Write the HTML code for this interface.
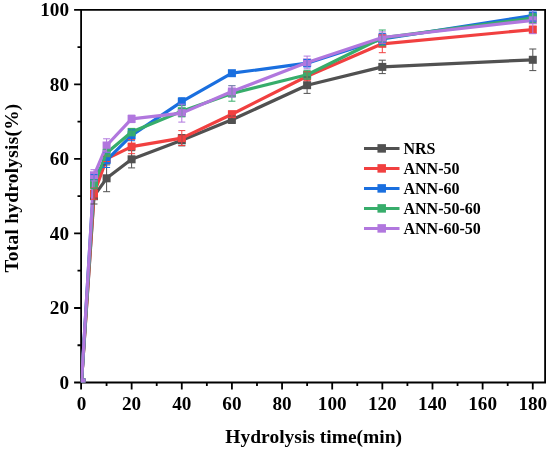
<!DOCTYPE html>
<html><head><meta charset="utf-8"><title>Total hydrolysis</title>
<style>html,body{margin:0;padding:0;background:#fff}svg{display:block}</style></head>
<body>
<svg width="550" height="450" viewBox="0 0 550 450">
<rect width="550" height="450" fill="#fff"/>
<defs><clipPath id="c"><rect x="80.89999999999999" y="9.9" width="464.2" height="372.6"/></clipPath></defs>
<path d="M74.1 9.9H545.1V382.5H74.1M81.1 9.15V389.5" fill="none" stroke="#000" stroke-width="1.8"/>
<path d="M77.5 345.24H81.1M74.1 307.98H81.1M77.5 270.72H81.1M74.1 233.46H81.1M77.5 196.20H81.1M74.1 158.94H81.1M77.5 121.68H81.1M74.1 84.42H81.1M77.5 47.16H81.1M106.57 382.5v3.6M131.64 382.5v7M156.71 382.5v3.6M181.78 382.5v7M206.85 382.5v3.6M231.92 382.5v7M256.99 382.5v3.6M282.06 382.5v7M307.13 382.5v3.6M332.20 382.5v7M357.27 382.5v3.6M382.34 382.5v7M407.41 382.5v3.6M432.48 382.5v7M457.55 382.5v3.6M482.62 382.5v7M507.69 382.5v3.6M532.76 382.5v7" fill="none" stroke="#000" stroke-width="1.8"/>
<g clip-path="url(#c)">
<polyline points="81.5,382.5 94.0,196.2 106.6,178.3 131.6,159.3 181.8,140.3 231.9,119.8 307.1,85.2 382.3,66.9 532.8,59.8" fill="none" stroke="#515151" stroke-width="3.2" stroke-linejoin="round"/>
<rect x="77.5" y="378.5" width="8" height="8" fill="#515151"/>
<rect x="90.0" y="192.2" width="8" height="8" fill="#515151"/>
<rect x="102.6" y="174.3" width="8" height="8" fill="#515151"/>
<rect x="127.6" y="155.3" width="8" height="8" fill="#515151"/>
<rect x="177.8" y="136.3" width="8" height="8" fill="#515151"/>
<rect x="227.9" y="115.8" width="8" height="8" fill="#515151"/>
<rect x="303.1" y="81.2" width="8" height="8" fill="#515151"/>
<rect x="378.3" y="62.9" width="8" height="8" fill="#515151"/>
<rect x="528.8" y="55.8" width="8" height="8" fill="#515151"/>
<polyline points="81.5,382.5 94.0,193.6 106.6,158.9 131.6,146.6 181.8,138.1 231.9,114.2 307.1,76.2 382.3,43.8 532.8,29.6" fill="none" stroke="#F14040" stroke-width="3.2" stroke-linejoin="round"/>
<rect x="77.5" y="378.5" width="8" height="8" fill="#F14040"/>
<rect x="90.0" y="189.6" width="8" height="8" fill="#F14040"/>
<rect x="102.6" y="154.9" width="8" height="8" fill="#F14040"/>
<rect x="127.6" y="142.6" width="8" height="8" fill="#F14040"/>
<rect x="177.8" y="134.1" width="8" height="8" fill="#F14040"/>
<rect x="227.9" y="110.2" width="8" height="8" fill="#F14040"/>
<rect x="303.1" y="72.2" width="8" height="8" fill="#F14040"/>
<rect x="378.3" y="39.8" width="8" height="8" fill="#F14040"/>
<rect x="528.8" y="25.6" width="8" height="8" fill="#F14040"/>
<polyline points="81.5,382.5 94.0,177.2 106.6,160.1 131.6,135.3 181.8,101.6 231.9,73.2 307.1,63.2 382.3,39.0 532.8,15.5" fill="none" stroke="#1A6FDF" stroke-width="3.2" stroke-linejoin="round"/>
<rect x="77.5" y="378.5" width="8" height="8" fill="#1A6FDF"/>
<rect x="90.0" y="173.2" width="8" height="8" fill="#1A6FDF"/>
<rect x="102.6" y="156.1" width="8" height="8" fill="#1A6FDF"/>
<rect x="127.6" y="131.3" width="8" height="8" fill="#1A6FDF"/>
<rect x="177.8" y="97.6" width="8" height="8" fill="#1A6FDF"/>
<rect x="227.9" y="69.2" width="8" height="8" fill="#1A6FDF"/>
<rect x="303.1" y="59.2" width="8" height="8" fill="#1A6FDF"/>
<rect x="378.3" y="35.0" width="8" height="8" fill="#1A6FDF"/>
<rect x="528.8" y="11.5" width="8" height="8" fill="#1A6FDF"/>
<polyline points="81.5,382.5 94.0,184.3 106.6,153.0 131.6,132.1 181.8,111.2 231.9,93.4 307.1,74.7 382.3,37.8 532.8,18.1" fill="none" stroke="#37AD6B" stroke-width="3.2" stroke-linejoin="round"/>
<rect x="77.5" y="378.5" width="8" height="8" fill="#37AD6B"/>
<rect x="90.0" y="180.3" width="8" height="8" fill="#37AD6B"/>
<rect x="102.6" y="149.0" width="8" height="8" fill="#37AD6B"/>
<rect x="127.6" y="128.1" width="8" height="8" fill="#37AD6B"/>
<rect x="177.8" y="107.2" width="8" height="8" fill="#37AD6B"/>
<rect x="227.9" y="89.4" width="8" height="8" fill="#37AD6B"/>
<rect x="303.1" y="70.7" width="8" height="8" fill="#37AD6B"/>
<rect x="378.3" y="33.8" width="8" height="8" fill="#37AD6B"/>
<rect x="528.8" y="14.1" width="8" height="8" fill="#37AD6B"/>
<polyline points="81.5,382.5 94.0,175.3 106.6,145.5 131.6,118.9 181.8,113.1 231.9,91.5 307.1,62.4 382.3,37.5 532.8,20.3" fill="none" stroke="#B177DE" stroke-width="3.2" stroke-linejoin="round"/>
<rect x="77.5" y="378.5" width="8" height="8" fill="#B177DE"/>
<rect x="90.0" y="171.3" width="8" height="8" fill="#B177DE"/>
<rect x="102.6" y="141.5" width="8" height="8" fill="#B177DE"/>
<rect x="127.6" y="114.9" width="8" height="8" fill="#B177DE"/>
<rect x="177.8" y="109.1" width="8" height="8" fill="#B177DE"/>
<rect x="227.9" y="87.5" width="8" height="8" fill="#B177DE"/>
<rect x="303.1" y="58.4" width="8" height="8" fill="#B177DE"/>
<rect x="378.3" y="33.5" width="8" height="8" fill="#B177DE"/>
<rect x="528.8" y="16.3" width="8" height="8" fill="#B177DE"/>
<path d="M94.0 188.4V204.0M90.5 188.4h7M90.5 204.0h7M106.6 164.9V191.7M103.1 164.9h7M103.1 191.7h7M131.6 150.7V167.9M128.1 150.7h7M128.1 167.9h7M181.8 134.7V145.9M178.3 134.7h7M178.3 145.9h7M231.9 116.1V123.5M228.4 116.1h7M228.4 123.5h7M307.1 77.0V93.4M303.6 77.0h7M303.6 93.4h7M382.3 60.2V73.6M378.8 60.2h7M378.8 73.6h7M532.8 49.0V70.6M529.3 49.0h7M529.3 70.6h7" stroke="#515151" stroke-width="1" fill="none"/>
<path d="M94.0 188.0V199.2M90.5 188.0h7M90.5 199.2h7M106.6 156.3V161.5M103.1 156.3h7M103.1 161.5h7M131.6 139.6V153.7M128.1 139.6h7M128.1 153.7h7M181.8 130.6V145.5M178.3 130.6h7M178.3 145.5h7M231.9 111.2V117.2M228.4 111.2h7M228.4 117.2h7M307.1 71.8V80.7M303.6 71.8h7M303.6 80.7h7M382.3 34.9V52.7M378.8 34.9h7M378.8 52.7h7M532.8 26.3V33.0M529.3 26.3h7M529.3 33.0h7" stroke="#F14040" stroke-width="1" fill="none"/>
<path d="M94.0 174.6V179.8M90.5 174.6h7M90.5 179.8h7M106.6 152.6V167.5M103.1 152.6h7M103.1 167.5h7M131.6 129.9V140.7M128.1 129.9h7M128.1 140.7h7M181.8 97.8V105.3M178.3 97.8h7M178.3 105.3h7M231.9 71.0V75.5M228.4 71.0h7M228.4 75.5h7M307.1 59.5V66.9M303.6 59.5h7M303.6 66.9h7M382.3 33.4V44.6M378.8 33.4h7M378.8 44.6h7M532.8 9.9V21.1M529.3 9.9h7M529.3 21.1h7" stroke="#1A6FDF" stroke-width="1" fill="none"/>
<path d="M94.0 179.8V188.7M90.5 179.8h7M90.5 188.7h7M106.6 149.3V156.7M103.1 149.3h7M103.1 156.7h7M131.6 128.4V135.8M128.1 128.4h7M128.1 135.8h7M181.8 105.7V116.8M178.3 105.7h7M178.3 116.8h7M231.9 85.5V101.2M228.4 85.5h7M228.4 101.2h7M307.1 70.3V79.2M303.6 70.3h7M303.6 79.2h7M382.3 30.0V45.7M378.8 30.0h7M378.8 45.7h7M532.8 13.6V22.6M529.3 13.6h7M529.3 22.6h7" stroke="#37AD6B" stroke-width="1" fill="none"/>
<path d="M94.0 169.7V180.9M90.5 169.7h7M90.5 180.9h7M106.6 138.8V152.2M103.1 138.8h7M103.1 152.2h7M131.6 115.2V122.6M128.1 115.2h7M128.1 122.6h7M181.8 104.2V122.1M178.3 104.2h7M178.3 122.1h7M231.9 85.9V97.1M228.4 85.9h7M228.4 97.1h7M307.1 56.1V68.8M303.6 56.1h7M303.6 68.8h7M382.3 31.9V43.1M378.8 31.9h7M378.8 43.1h7M532.8 6.9V33.7M529.3 6.9h7M529.3 33.7h7" stroke="#B177DE" stroke-width="1" fill="none"/>
</g>
<text x="69" y="388.7" text-anchor="end" font-size="19.2" font-family="'Liberation Serif', 'Times New Roman', serif" font-weight="bold">0</text>
<text x="69" y="314.2" text-anchor="end" font-size="19.2" font-family="'Liberation Serif', 'Times New Roman', serif" font-weight="bold">20</text>
<text x="69" y="239.7" text-anchor="end" font-size="19.2" font-family="'Liberation Serif', 'Times New Roman', serif" font-weight="bold">40</text>
<text x="69" y="165.1" text-anchor="end" font-size="19.2" font-family="'Liberation Serif', 'Times New Roman', serif" font-weight="bold">60</text>
<text x="69" y="90.6" text-anchor="end" font-size="19.2" font-family="'Liberation Serif', 'Times New Roman', serif" font-weight="bold">80</text>
<text x="69" y="16.1" text-anchor="end" font-size="19.2" font-family="'Liberation Serif', 'Times New Roman', serif" font-weight="bold">100</text>
<text x="81.5" y="410.2" text-anchor="middle" font-size="19.2" font-family="'Liberation Serif', 'Times New Roman', serif" font-weight="bold">0</text>
<text x="131.6" y="410.2" text-anchor="middle" font-size="19.2" font-family="'Liberation Serif', 'Times New Roman', serif" font-weight="bold">20</text>
<text x="181.8" y="410.2" text-anchor="middle" font-size="19.2" font-family="'Liberation Serif', 'Times New Roman', serif" font-weight="bold">40</text>
<text x="231.9" y="410.2" text-anchor="middle" font-size="19.2" font-family="'Liberation Serif', 'Times New Roman', serif" font-weight="bold">60</text>
<text x="282.1" y="410.2" text-anchor="middle" font-size="19.2" font-family="'Liberation Serif', 'Times New Roman', serif" font-weight="bold">80</text>
<text x="332.2" y="410.2" text-anchor="middle" font-size="19.2" font-family="'Liberation Serif', 'Times New Roman', serif" font-weight="bold">100</text>
<text x="382.3" y="410.2" text-anchor="middle" font-size="19.2" font-family="'Liberation Serif', 'Times New Roman', serif" font-weight="bold">120</text>
<text x="432.5" y="410.2" text-anchor="middle" font-size="19.2" font-family="'Liberation Serif', 'Times New Roman', serif" font-weight="bold">140</text>
<text x="482.6" y="410.2" text-anchor="middle" font-size="19.2" font-family="'Liberation Serif', 'Times New Roman', serif" font-weight="bold">160</text>
<text x="532.8" y="410.2" text-anchor="middle" font-size="19.2" font-family="'Liberation Serif', 'Times New Roman', serif" font-weight="bold">180</text>
<text x="313.7" y="442.5" text-anchor="middle" font-size="19.5" font-family="'Liberation Serif', 'Times New Roman', serif" font-weight="bold">Hydrolysis time(min)</text>
<text transform="translate(18.4 188) rotate(-90)" text-anchor="middle" font-size="19.3" letter-spacing="0.3" font-family="'Liberation Serif', 'Times New Roman', serif" font-weight="bold">Total hydrolysis(%)</text>
<path d="M364 148.4H399.5" stroke="#515151" stroke-width="3"/>
<rect x="377.45" y="144.15" width="8.5" height="8.5" fill="#515151"/>
<text x="403.5" y="153.9" font-size="16" font-family="'Liberation Serif', 'Times New Roman', serif" font-weight="bold">NRS</text>
<path d="M364 168.4H399.5" stroke="#F14040" stroke-width="3"/>
<rect x="377.45" y="164.15" width="8.5" height="8.5" fill="#F14040"/>
<text x="403.5" y="173.9" font-size="16" font-family="'Liberation Serif', 'Times New Roman', serif" font-weight="bold">ANN-50</text>
<path d="M364 188.4H399.5" stroke="#1A6FDF" stroke-width="3"/>
<rect x="377.45" y="184.15" width="8.5" height="8.5" fill="#1A6FDF"/>
<text x="403.5" y="193.9" font-size="16" font-family="'Liberation Serif', 'Times New Roman', serif" font-weight="bold">ANN-60</text>
<path d="M364 208.4H399.5" stroke="#37AD6B" stroke-width="3"/>
<rect x="377.45" y="204.15" width="8.5" height="8.5" fill="#37AD6B"/>
<text x="403.5" y="213.9" font-size="16" font-family="'Liberation Serif', 'Times New Roman', serif" font-weight="bold">ANN-50-60</text>
<path d="M364 228.4H399.5" stroke="#B177DE" stroke-width="3"/>
<rect x="377.45" y="224.15" width="8.5" height="8.5" fill="#B177DE"/>
<text x="403.5" y="233.9" font-size="16" font-family="'Liberation Serif', 'Times New Roman', serif" font-weight="bold">ANN-60-50</text>
</svg>
</body></html>
